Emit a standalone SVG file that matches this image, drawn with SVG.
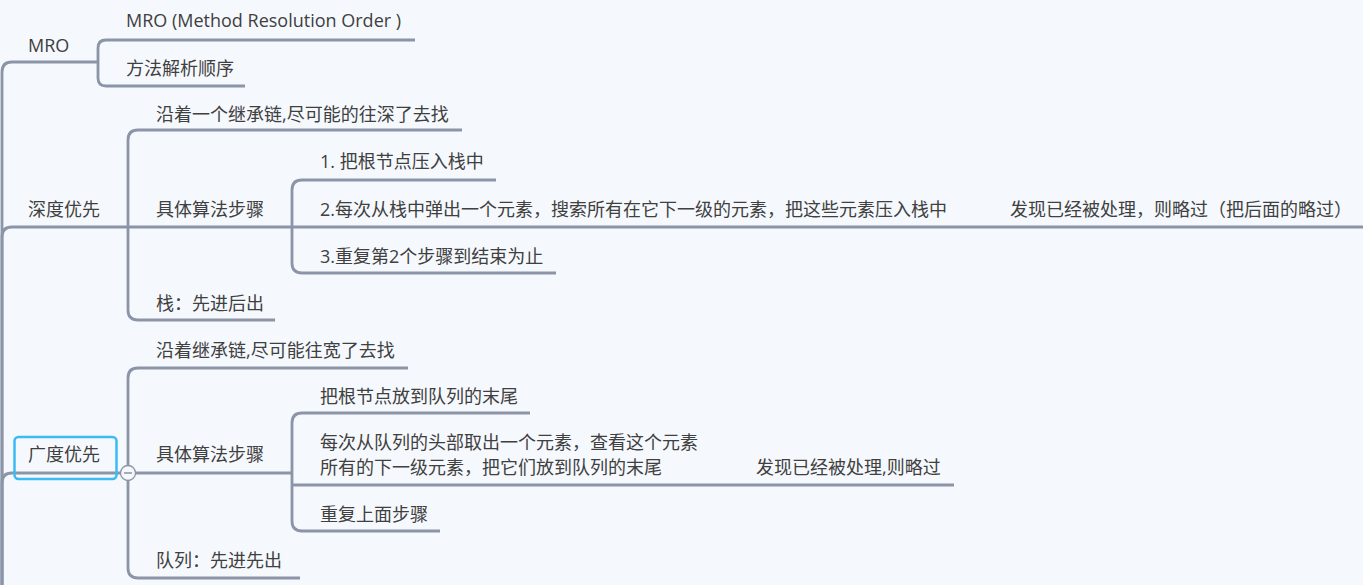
<svg xmlns="http://www.w3.org/2000/svg" width="1363" height="585" viewBox="0 0 1363 585">
<style>
.t{font-family:"Open Sans","Noto Sans CJK SC",sans-serif;font-size:18px;fill:#404040}
.c{fill:none;stroke:#8B95A7;stroke-width:2.8;stroke-linecap:butt}
</style>
<rect x="0" y="0" width="1363" height="585" fill="#F5F9FD"/>
<g id="connectors">
<path class="c" d="M2,585 V72 Q2,62 12,62 H98"/>
<path class="c" d="M98,62 V48 Q98,40 106,40 H415"/>
<path class="c" d="M98,62 V78 Q98,86 106,86 H245"/>
<path class="c" d="M2,585 V237 Q2,227 12,227 H128"/>
<path class="c" d="M128,227 V140 Q128,130 138,130 H462"/>
<path class="c" d="M128,227 H292"/>
<path class="c" d="M128,227 V310 Q128,320 138,320 H275"/>
<path class="c" d="M292,227 V190 Q292,180 302,180 H496"/>
<path class="c" d="M292,227 H966"/>
<path class="c" d="M292,227 V263 Q292,273 302,273 H556"/>
<path class="c" d="M966,227 H999"/>
<path class="c" d="M999,227 H1363"/>
<path class="c" d="M2,585 V483 Q2,473 12,473 H128"/>
<path class="c" d="M128,473 V378 Q128,368 138,368 H408"/>
<path class="c" d="M128,473 H292"/>
<path class="c" d="M128,473 V568 Q128,578 138,578 H300"/>
<path class="c" d="M292,473 V423 Q292,413 302,413 H530"/>
<path class="c" d="M292,473 V521 Q292,531 302,531 H440"/>
<path class="c" d="M292,485 H712"/>
<path class="c" d="M712,485 H746"/>
<path class="c" d="M746,485 H954"/>
</g>
<g id="node-mro"><text class="t" x="28" y="52">MRO</text></g>
<g id="node-mro-full"><text class="t" x="126" y="27">MRO (Method Resolution Order )</text></g>
<g id="node-mro-cn"><text class="t" x="126" y="75">方法解析顺序</text></g>
<g id="node-dfs"><text class="t" x="28" y="216">深度优先</text></g>
<g id="node-dfs-desc"><text class="t" x="156" y="121">沿着一个继承链,尽可能的往深了去找</text></g>
<g id="node-dfs-steps"><text class="t" x="156" y="216">具体算法步骤</text></g>
<g id="node-dfs-s1"><text class="t" x="320" y="168">1. 把根节点压入栈中</text></g>
<g id="node-dfs-s2"><text class="t" x="320" y="216">2.每次从栈中弹出一个元素，搜索所有在它下一级的元素，把这些元素压入栈中</text></g>
<g id="node-dfs-s2-note"><text class="t" x="1010" y="216">发现已经被处理，则略过（把后面的略过）</text></g>
<g id="node-dfs-s3"><text class="t" x="320" y="263">3.重复第2个步骤到结束为止</text></g>
<g id="node-dfs-stack"><text class="t" x="156" y="310">栈：先进后出</text></g>
<g id="node-bfs">
<rect x="14.5" y="437" width="102" height="42" rx="4" fill="none" stroke="#3CBAF5" stroke-width="2.5"/>
<text class="t" x="28" y="461">广度优先</text>
</g>
<g id="node-bfs-desc"><text class="t" x="156" y="357">沿着继承链,尽可能往宽了去找</text></g>
<g id="node-bfs-steps"><text class="t" x="156" y="461">具体算法步骤</text></g>
<g id="node-bfs-s1"><text class="t" x="320" y="403">把根节点放到队列的末尾</text></g>
<g id="node-bfs-s2"><text class="t" x="320" y="449">每次从队列的头部取出一个元素，查看这个元素</text><text class="t" x="320" y="474">所有的下一级元素，把它们放到队列的末尾</text></g>
<g id="node-bfs-s2-note"><text class="t" x="756" y="474">发现已经被处理,则略过</text></g>
<g id="node-bfs-s3"><text class="t" x="320" y="521">重复上面步骤</text></g>
<g id="node-bfs-queue"><text class="t" x="156" y="567">队列：先进先出</text></g>
<g id="collapse-bfs">
<circle cx="128" cy="473" r="7.5" fill="#F5F9FD" stroke="#8B95A7" stroke-width="1.3"/>
<line x1="124" y1="473" x2="132" y2="473" stroke="#6F7889" stroke-width="1.2"/>
</g>
</svg>
